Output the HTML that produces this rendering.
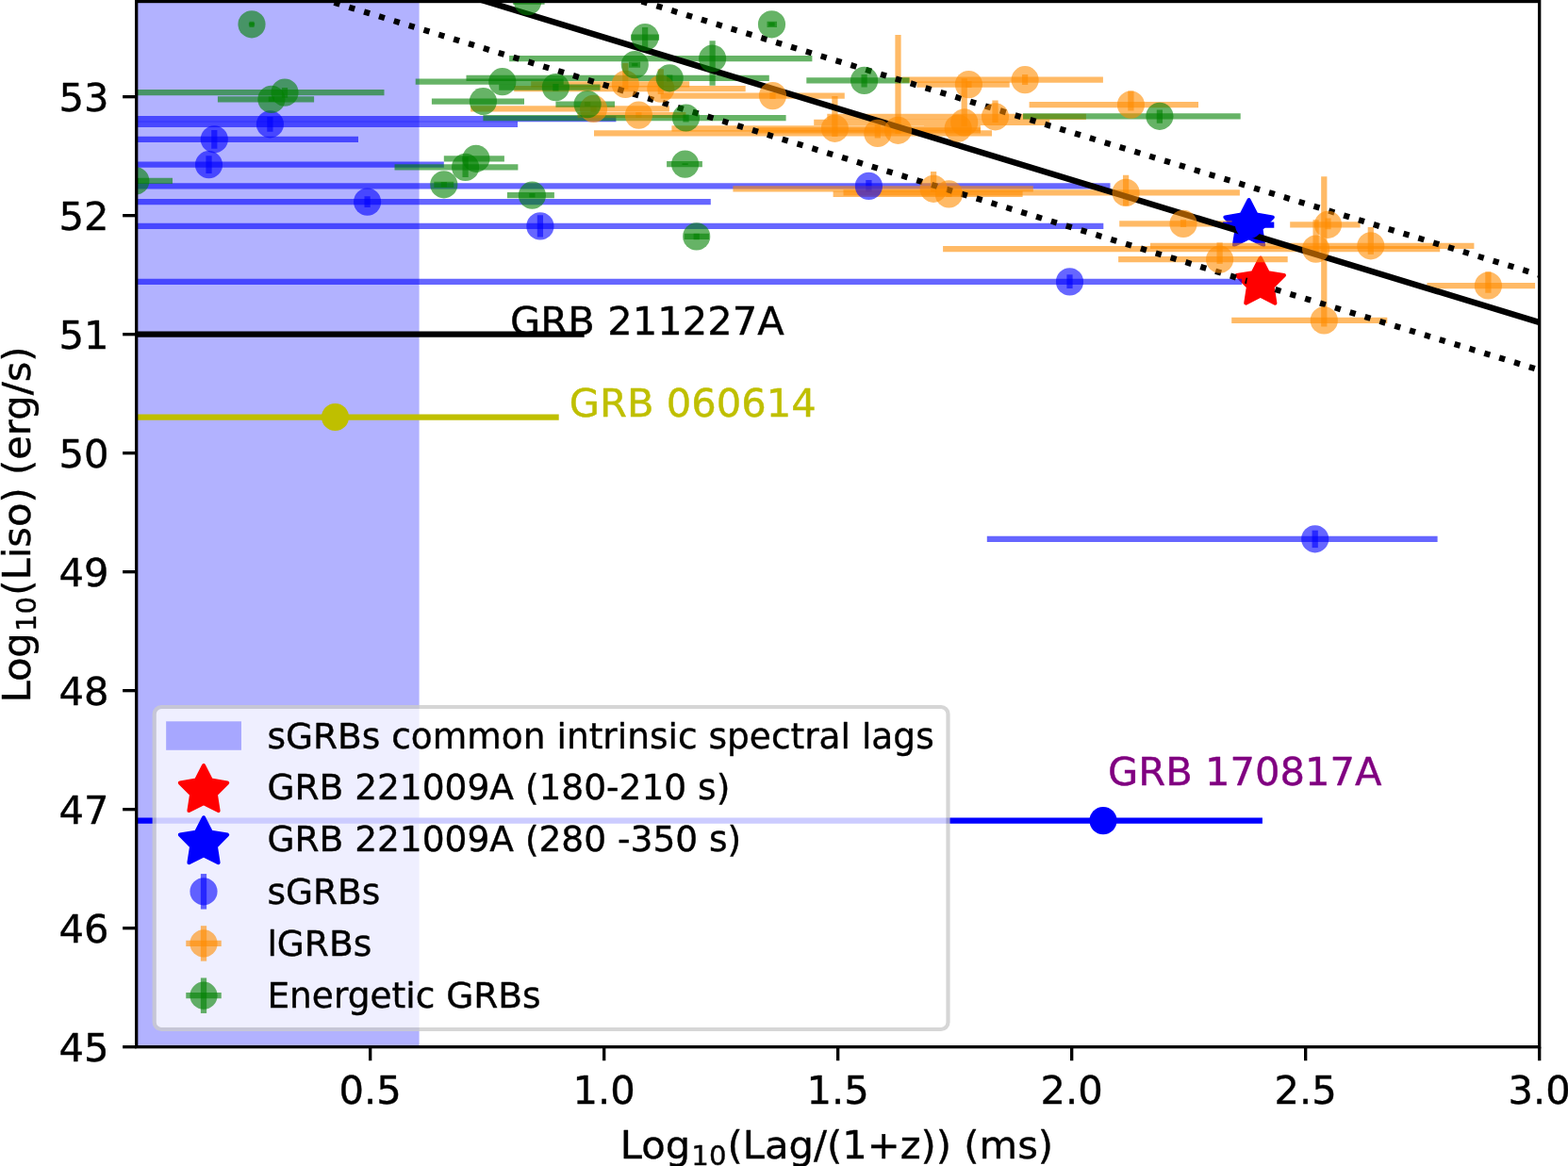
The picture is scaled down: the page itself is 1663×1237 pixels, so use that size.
<!DOCTYPE html>
<html lang="en"><head><meta charset="utf-8"><title>Luminosity-lag relation</title>
<style>html,body{margin:0;padding:0;background:#fff}svg{display:block}text{font-family:'DejaVu Sans','Liberation Sans',sans-serif;stroke-width:0.4px;stroke-linejoin:round;paint-order:stroke fill;}</style></head><body>
<svg width="1663" height="1237" viewBox="0 0 1663 1237">
<rect x="0" y="0" width="1663" height="1237" fill="#fff"/>
<defs><clipPath id="ax"><rect x="144.67" y="1.87" width="1488.0" height="1108.8000000000002"/></clipPath>
</defs>
<g clip-path="url(#ax)">
<rect x="139.67" y="-3.13" width="304.93" height="1118.8000000000002" fill="#0000ff" fill-opacity="0.3"/>
<path d="M1336.80 273.80L1328.86 289.28L1311.69 292.04L1323.96 304.37L1321.28 321.56L1336.80 313.70L1352.32 321.56L1349.64 304.37L1361.91 292.04L1344.74 289.28Z" fill="#ff0000" stroke="#ff0000" stroke-width="4.17" stroke-linejoin="round" />
<path d="M1324.55 212.20L1316.61 227.68L1299.44 230.44L1311.71 242.77L1309.03 259.96L1324.55 252.10L1340.07 259.96L1337.39 242.77L1349.66 230.44L1332.49 227.68Z" fill="#0000ff" stroke="#0000ff" stroke-width="4.17" stroke-linejoin="round" />
<path d="M100.00 354.67H619.70" stroke="#000" stroke-opacity="1" stroke-width="6.25" fill="none"/>
<path d="M100.00 442.50H592.70" stroke="#bfbf00" stroke-opacity="1" stroke-width="6.25" fill="none"/>
<path d="M100.00 870.60H1338.90" stroke="#0000ff" stroke-opacity="1" stroke-width="6.25" fill="none"/>
<g id="bars-s">
<path d="M100.00 131.80H549.00" stroke="#0000ff" stroke-opacity="0.6" stroke-width="6.25" fill="none"/>
<path d="M100.00 147.80H380.00" stroke="#0000ff" stroke-opacity="0.6" stroke-width="6.25" fill="none"/>
<path d="M100.00 174.70H470.80" stroke="#0000ff" stroke-opacity="0.6" stroke-width="6.25" fill="none"/>
<path d="M100.00 214.10H753.80" stroke="#0000ff" stroke-opacity="0.6" stroke-width="6.25" fill="none"/>
<path d="M100.00 239.90H1170.30" stroke="#0000ff" stroke-opacity="0.6" stroke-width="6.25" fill="none"/>
<path d="M100.00 197.40H1177.50" stroke="#0000ff" stroke-opacity="0.6" stroke-width="6.25" fill="none"/>
<path d="M100.00 298.90H1317.10" stroke="#0000ff" stroke-opacity="0.6" stroke-width="6.25" fill="none"/>
<path d="M1046.80 571.80H1524.60" stroke="#0000ff" stroke-opacity="0.6" stroke-width="6.25" fill="none"/>
<path d="M286.40 123.90V139.80" stroke="#0000ff" stroke-opacity="0.6" stroke-width="6.25" fill="none"/>
<path d="M227.30 137.90V157.70" stroke="#0000ff" stroke-opacity="0.6" stroke-width="6.25" fill="none"/>
<path d="M221.50 165.20V184.00" stroke="#0000ff" stroke-opacity="0.6" stroke-width="6.25" fill="none"/>
<path d="M389.60 208.20V219.90" stroke="#0000ff" stroke-opacity="0.6" stroke-width="6.25" fill="none"/>
<path d="M572.90 228.20V251.50" stroke="#0000ff" stroke-opacity="0.6" stroke-width="6.25" fill="none"/>
<path d="M921.40 190.90V203.40" stroke="#0000ff" stroke-opacity="0.6" stroke-width="6.25" fill="none"/>
<path d="M1134.50 291.30V306.00" stroke="#0000ff" stroke-opacity="0.6" stroke-width="6.25" fill="none"/>
<path d="M1394.70 562.70V581.10" stroke="#0000ff" stroke-opacity="0.6" stroke-width="6.25" fill="none"/>
<path d="M100.00 126.10H653.40" stroke="#0000ff" stroke-opacity="0.6" stroke-width="6.25" fill="none"/>
</g>
<g id="bars-l">
<path d="M563.20 89.40H731.20" stroke="#ff8c00" stroke-opacity="0.6" stroke-width="6.25" fill="none"/>
<path d="M545.20 94.10H790.70" stroke="#ff8c00" stroke-opacity="0.6" stroke-width="6.25" fill="none"/>
<path d="M499.10 115.40H709.90" stroke="#ff8c00" stroke-opacity="0.6" stroke-width="6.25" fill="none"/>
<path d="M612.50 122.10H727.40" stroke="#ff8c00" stroke-opacity="0.6" stroke-width="6.25" fill="none"/>
<path d="M700.60 101.60H895.80" stroke="#ff8c00" stroke-opacity="0.6" stroke-width="6.25" fill="none"/>
<path d="M712.40 136.30H980.00" stroke="#ff8c00" stroke-opacity="0.6" stroke-width="6.25" fill="none"/>
<path d="M630.00 141.40H1052.00" stroke="#ff8c00" stroke-opacity="0.6" stroke-width="6.25" fill="none"/>
<path d="M803.40 138.30H1040.00" stroke="#ff8c00" stroke-opacity="0.6" stroke-width="6.25" fill="none"/>
<path d="M980.00 136.10H1039.90" stroke="#ff8c00" stroke-opacity="0.6" stroke-width="6.25" fill="none"/>
<path d="M863.20 129.90H1113.30" stroke="#ff8c00" stroke-opacity="0.6" stroke-width="6.25" fill="none"/>
<path d="M972.40 89.60H1070.70" stroke="#ff8c00" stroke-opacity="0.6" stroke-width="6.25" fill="none"/>
<path d="M877.30 123.80H1151.90" stroke="#ff8c00" stroke-opacity="0.6" stroke-width="6.25" fill="none"/>
<path d="M956.60 84.70H1169.90" stroke="#ff8c00" stroke-opacity="0.6" stroke-width="6.25" fill="none"/>
<path d="M777.40 200.30H1095.80" stroke="#ff8c00" stroke-opacity="0.6" stroke-width="6.25" fill="none"/>
<path d="M883.60 205.90H1084.60" stroke="#ff8c00" stroke-opacity="0.6" stroke-width="6.25" fill="none"/>
<path d="M894.50 204.40H1314.90" stroke="#ff8c00" stroke-opacity="0.6" stroke-width="6.25" fill="none"/>
<path d="M1091.60 111.10H1271.00" stroke="#ff8c00" stroke-opacity="0.6" stroke-width="6.25" fill="none"/>
<path d="M1187.20 237.40H1306.60" stroke="#ff8c00" stroke-opacity="0.6" stroke-width="6.25" fill="none"/>
<path d="M1186.10 275.20H1365.70" stroke="#ff8c00" stroke-opacity="0.6" stroke-width="6.25" fill="none"/>
<path d="M1000.10 264.10H1527.20" stroke="#ff8c00" stroke-opacity="0.6" stroke-width="6.25" fill="none"/>
<path d="M1368.20 238.30H1442.60" stroke="#ff8c00" stroke-opacity="0.6" stroke-width="6.25" fill="none"/>
<path d="M1220.00 260.80H1563.40" stroke="#ff8c00" stroke-opacity="0.6" stroke-width="6.25" fill="none"/>
<path d="M1306.20 339.90H1471.30" stroke="#ff8c00" stroke-opacity="0.6" stroke-width="6.25" fill="none"/>
<path d="M1513.40 303.00H1628.10" stroke="#ff8c00" stroke-opacity="0.6" stroke-width="6.25" fill="none"/>
<path d="M663.30 67.00V95.00" stroke="#ff8c00" stroke-opacity="0.6" stroke-width="6.25" fill="none"/>
<path d="M700.80 73.30V100.00" stroke="#ff8c00" stroke-opacity="0.6" stroke-width="6.25" fill="none"/>
<path d="M629.50 112.00V119.00" stroke="#ff8c00" stroke-opacity="0.6" stroke-width="6.25" fill="none"/>
<path d="M677.40 119.00V125.00" stroke="#ff8c00" stroke-opacity="0.6" stroke-width="6.25" fill="none"/>
<path d="M819.50 98.00V105.00" stroke="#ff8c00" stroke-opacity="0.6" stroke-width="6.25" fill="none"/>
<path d="M885.40 101.90V145.00" stroke="#ff8c00" stroke-opacity="0.6" stroke-width="6.25" fill="none"/>
<path d="M930.80 132.00V146.60" stroke="#ff8c00" stroke-opacity="0.6" stroke-width="6.25" fill="none"/>
<path d="M952.50 37.00V142.00" stroke="#ff8c00" stroke-opacity="0.6" stroke-width="6.25" fill="none"/>
<path d="M1022.70 83.30V134.00" stroke="#ff8c00" stroke-opacity="0.6" stroke-width="6.25" fill="none"/>
<path d="M1027.40 86.00V93.00" stroke="#ff8c00" stroke-opacity="0.6" stroke-width="6.25" fill="none"/>
<path d="M1055.50 106.60V130.00" stroke="#ff8c00" stroke-opacity="0.6" stroke-width="6.25" fill="none"/>
<path d="M1087.10 79.10V90.00" stroke="#ff8c00" stroke-opacity="0.6" stroke-width="6.25" fill="none"/>
<path d="M990.10 182.10V204.00" stroke="#ff8c00" stroke-opacity="0.6" stroke-width="6.25" fill="none"/>
<path d="M1006.40 202.00V209.00" stroke="#ff8c00" stroke-opacity="0.6" stroke-width="6.25" fill="none"/>
<path d="M1194.10 185.80V218.30" stroke="#ff8c00" stroke-opacity="0.6" stroke-width="6.25" fill="none"/>
<path d="M1199.40 96.60V117.50" stroke="#ff8c00" stroke-opacity="0.6" stroke-width="6.25" fill="none"/>
<path d="M1255.00 233.00V241.00" stroke="#ff8c00" stroke-opacity="0.6" stroke-width="6.25" fill="none"/>
<path d="M1293.60 257.40V279.90" stroke="#ff8c00" stroke-opacity="0.6" stroke-width="6.25" fill="none"/>
<path d="M1395.60 233.30V270.00" stroke="#ff8c00" stroke-opacity="0.6" stroke-width="6.25" fill="none"/>
<path d="M1408.50 231.60V243.30" stroke="#ff8c00" stroke-opacity="0.6" stroke-width="6.25" fill="none"/>
<path d="M1453.80 241.10V269.90" stroke="#ff8c00" stroke-opacity="0.6" stroke-width="6.25" fill="none"/>
<path d="M1404.30 187.30V346.60" stroke="#ff8c00" stroke-opacity="0.6" stroke-width="6.25" fill="none"/>
<path d="M1578.40 288.20V310.80" stroke="#ff8c00" stroke-opacity="0.6" stroke-width="6.25" fill="none"/>
</g>
<g id="bars-e">
<path d="M264.50 25.80H269.50" stroke="#008000" stroke-opacity="0.6" stroke-width="6.25" fill="none"/>
<path d="M100.00 98.10H407.50" stroke="#008000" stroke-opacity="0.6" stroke-width="6.25" fill="none"/>
<path d="M230.90 105.40H333.10" stroke="#008000" stroke-opacity="0.6" stroke-width="6.25" fill="none"/>
<path d="M100.00 191.90H183.00" stroke="#008000" stroke-opacity="0.6" stroke-width="6.25" fill="none"/>
<path d="M460.30 195.80H481.20" stroke="#008000" stroke-opacity="0.6" stroke-width="6.25" fill="none"/>
<path d="M418.50 177.40H549.40" stroke="#008000" stroke-opacity="0.6" stroke-width="6.25" fill="none"/>
<path d="M470.80 168.30H534.90" stroke="#008000" stroke-opacity="0.6" stroke-width="6.25" fill="none"/>
<path d="M457.90 107.50H556.00" stroke="#008000" stroke-opacity="0.6" stroke-width="6.25" fill="none"/>
<path d="M440.70 86.70H597.70" stroke="#008000" stroke-opacity="0.6" stroke-width="6.25" fill="none"/>
<path d="M543.90 1.70H577.60" stroke="#008000" stroke-opacity="0.6" stroke-width="6.25" fill="none"/>
<path d="M537.90 207.20H587.90" stroke="#008000" stroke-opacity="0.6" stroke-width="6.25" fill="none"/>
<path d="M529.20 92.60H636.50" stroke="#008000" stroke-opacity="0.6" stroke-width="6.25" fill="none"/>
<path d="M589.40 110.60H652.00" stroke="#008000" stroke-opacity="0.6" stroke-width="6.25" fill="none"/>
<path d="M669.10 39.50H699.10" stroke="#008000" stroke-opacity="0.6" stroke-width="6.25" fill="none"/>
<path d="M667.00 68.60H679.10" stroke="#008000" stroke-opacity="0.6" stroke-width="6.25" fill="none"/>
<path d="M494.50 82.80H815.80" stroke="#008000" stroke-opacity="0.6" stroke-width="6.25" fill="none"/>
<path d="M512.40 125.00H833.60" stroke="#008000" stroke-opacity="0.6" stroke-width="6.25" fill="none"/>
<path d="M707.10 174.10H744.90" stroke="#008000" stroke-opacity="0.6" stroke-width="6.25" fill="none"/>
<path d="M725.70 250.90H752.00" stroke="#008000" stroke-opacity="0.6" stroke-width="6.25" fill="none"/>
<path d="M540.10 62.00H861.40" stroke="#008000" stroke-opacity="0.6" stroke-width="6.25" fill="none"/>
<path d="M813.50 25.80H824.00" stroke="#008000" stroke-opacity="0.6" stroke-width="6.25" fill="none"/>
<path d="M855.30 85.40H964.60" stroke="#008000" stroke-opacity="0.6" stroke-width="6.25" fill="none"/>
<path d="M1085.00 123.30H1315.70" stroke="#008000" stroke-opacity="0.6" stroke-width="6.25" fill="none"/>
<path d="M267.00 24.00V27.60" stroke="#008000" stroke-opacity="0.6" stroke-width="6.25" fill="none"/>
<path d="M302.00 92.90V103.80" stroke="#008000" stroke-opacity="0.6" stroke-width="6.25" fill="none"/>
<path d="M287.90 102.50V108.00" stroke="#008000" stroke-opacity="0.6" stroke-width="6.25" fill="none"/>
<path d="M143.80 189.00V195.00" stroke="#008000" stroke-opacity="0.6" stroke-width="6.25" fill="none"/>
<path d="M470.80 193.00V198.50" stroke="#008000" stroke-opacity="0.6" stroke-width="6.25" fill="none"/>
<path d="M493.60 166.60V187.90" stroke="#008000" stroke-opacity="0.6" stroke-width="6.25" fill="none"/>
<path d="M564.40 205.00V209.50" stroke="#008000" stroke-opacity="0.6" stroke-width="6.25" fill="none"/>
<path d="M589.40 88.90V96.40" stroke="#008000" stroke-opacity="0.6" stroke-width="6.25" fill="none"/>
<path d="M623.10 108.00V113.00" stroke="#008000" stroke-opacity="0.6" stroke-width="6.25" fill="none"/>
<path d="M684.10 29.10V50.00" stroke="#008000" stroke-opacity="0.6" stroke-width="6.25" fill="none"/>
<path d="M673.30 67.00V70.20" stroke="#008000" stroke-opacity="0.6" stroke-width="6.25" fill="none"/>
<path d="M710.20 79.50V86.60" stroke="#008000" stroke-opacity="0.6" stroke-width="6.25" fill="none"/>
<path d="M727.50 121.60V129.60" stroke="#008000" stroke-opacity="0.6" stroke-width="6.25" fill="none"/>
<path d="M726.60 173.30V174.90" stroke="#008000" stroke-opacity="0.6" stroke-width="6.25" fill="none"/>
<path d="M738.70 247.70V254.20" stroke="#008000" stroke-opacity="0.6" stroke-width="6.25" fill="none"/>
<path d="M755.60 43.30V90.80" stroke="#008000" stroke-opacity="0.6" stroke-width="6.25" fill="none"/>
<path d="M818.50 23.80V27.80" stroke="#008000" stroke-opacity="0.6" stroke-width="6.25" fill="none"/>
<path d="M916.60 79.10V92.40" stroke="#008000" stroke-opacity="0.6" stroke-width="6.25" fill="none"/>
<path d="M1229.90 116.60V130.80" stroke="#008000" stroke-opacity="0.6" stroke-width="6.25" fill="none"/>
</g>
<path d="M1297.00 238.60H1351.30" stroke="#0000ff" stroke-opacity="1" stroke-width="6.25" fill="none"/>
<path d="M-4.13 -156.89L1731.87 372.31" stroke="#000" fill="none" stroke-width="6.5"/>
<path d="M-4.13 -207.29L1731.87 321.91" stroke="#000" fill="none" stroke-width="6.25" stroke-dasharray="6.250 10.312" stroke-dashoffset="12.923"/>
<path d="M-4.13 -106.49L1731.87 422.71" stroke="#000" fill="none" stroke-width="6.25" stroke-dasharray="6.250 10.312" stroke-dashoffset="6.076"/>
<circle cx="355.50" cy="442.50" r="14.58" fill="#bfbf00" fill-opacity="1"/>
<circle cx="1170.00" cy="870.60" r="14.58" fill="#0000ff" fill-opacity="1"/>
<circle cx="1336.80" cy="300.20" r="14.58" fill="#ff0000" fill-opacity="1"/>
<circle cx="1324.55" cy="238.60" r="14.58" fill="#0000ff" fill-opacity="1"/>
<g id="pts-s">
<circle cx="286.40" cy="131.80" r="14.58" fill="#0000ff" fill-opacity="0.6"/>
<circle cx="227.30" cy="147.80" r="14.58" fill="#0000ff" fill-opacity="0.6"/>
<circle cx="221.50" cy="174.70" r="14.58" fill="#0000ff" fill-opacity="0.6"/>
<circle cx="389.60" cy="214.10" r="14.58" fill="#0000ff" fill-opacity="0.6"/>
<circle cx="572.90" cy="239.90" r="14.58" fill="#0000ff" fill-opacity="0.6"/>
<circle cx="921.40" cy="197.40" r="14.58" fill="#0000ff" fill-opacity="0.6"/>
<circle cx="1134.50" cy="298.90" r="14.58" fill="#0000ff" fill-opacity="0.6"/>
<circle cx="1394.70" cy="571.80" r="14.58" fill="#0000ff" fill-opacity="0.6"/>
</g>
<g id="pts-l">
<circle cx="663.30" cy="89.40" r="14.58" fill="#ff8c00" fill-opacity="0.6"/>
<circle cx="700.80" cy="94.10" r="14.58" fill="#ff8c00" fill-opacity="0.6"/>
<circle cx="629.50" cy="115.40" r="14.58" fill="#ff8c00" fill-opacity="0.6"/>
<circle cx="677.40" cy="122.10" r="14.58" fill="#ff8c00" fill-opacity="0.6"/>
<circle cx="819.50" cy="101.60" r="14.58" fill="#ff8c00" fill-opacity="0.6"/>
<circle cx="885.40" cy="136.30" r="14.58" fill="#ff8c00" fill-opacity="0.6"/>
<circle cx="930.80" cy="141.40" r="14.58" fill="#ff8c00" fill-opacity="0.6"/>
<circle cx="952.50" cy="138.30" r="14.58" fill="#ff8c00" fill-opacity="0.6"/>
<circle cx="1016.20" cy="136.10" r="14.58" fill="#ff8c00" fill-opacity="0.6"/>
<circle cx="1022.70" cy="129.90" r="14.58" fill="#ff8c00" fill-opacity="0.6"/>
<circle cx="1027.40" cy="89.60" r="14.58" fill="#ff8c00" fill-opacity="0.6"/>
<circle cx="1055.50" cy="123.80" r="14.58" fill="#ff8c00" fill-opacity="0.6"/>
<circle cx="1087.10" cy="84.70" r="14.58" fill="#ff8c00" fill-opacity="0.6"/>
<circle cx="990.10" cy="200.30" r="14.58" fill="#ff8c00" fill-opacity="0.6"/>
<circle cx="1006.40" cy="205.90" r="14.58" fill="#ff8c00" fill-opacity="0.6"/>
<circle cx="1194.10" cy="204.40" r="14.58" fill="#ff8c00" fill-opacity="0.6"/>
<circle cx="1199.40" cy="111.10" r="14.58" fill="#ff8c00" fill-opacity="0.6"/>
<circle cx="1255.00" cy="237.40" r="14.58" fill="#ff8c00" fill-opacity="0.6"/>
<circle cx="1293.60" cy="275.20" r="14.58" fill="#ff8c00" fill-opacity="0.6"/>
<circle cx="1395.60" cy="264.10" r="14.58" fill="#ff8c00" fill-opacity="0.6"/>
<circle cx="1408.50" cy="238.30" r="14.58" fill="#ff8c00" fill-opacity="0.6"/>
<circle cx="1453.80" cy="260.80" r="14.58" fill="#ff8c00" fill-opacity="0.6"/>
<circle cx="1404.30" cy="339.90" r="14.58" fill="#ff8c00" fill-opacity="0.6"/>
<circle cx="1578.40" cy="303.00" r="14.58" fill="#ff8c00" fill-opacity="0.6"/>
</g>
<g id="pts-e">
<circle cx="267.00" cy="25.80" r="14.58" fill="#008000" fill-opacity="0.6"/>
<circle cx="302.00" cy="98.10" r="14.58" fill="#008000" fill-opacity="0.6"/>
<circle cx="287.90" cy="105.40" r="14.58" fill="#008000" fill-opacity="0.6"/>
<circle cx="143.80" cy="191.90" r="14.58" fill="#008000" fill-opacity="0.6"/>
<circle cx="470.80" cy="195.80" r="14.58" fill="#008000" fill-opacity="0.6"/>
<circle cx="493.60" cy="177.40" r="14.58" fill="#008000" fill-opacity="0.6"/>
<circle cx="504.90" cy="168.30" r="14.58" fill="#008000" fill-opacity="0.6"/>
<circle cx="512.40" cy="107.50" r="14.58" fill="#008000" fill-opacity="0.6"/>
<circle cx="532.80" cy="86.70" r="14.58" fill="#008000" fill-opacity="0.6"/>
<circle cx="559.60" cy="1.70" r="14.58" fill="#008000" fill-opacity="0.6"/>
<circle cx="564.40" cy="207.20" r="14.58" fill="#008000" fill-opacity="0.6"/>
<circle cx="589.40" cy="92.60" r="14.58" fill="#008000" fill-opacity="0.6"/>
<circle cx="623.10" cy="110.60" r="14.58" fill="#008000" fill-opacity="0.6"/>
<circle cx="684.10" cy="39.50" r="14.58" fill="#008000" fill-opacity="0.6"/>
<circle cx="673.30" cy="68.60" r="14.58" fill="#008000" fill-opacity="0.6"/>
<circle cx="710.20" cy="82.80" r="14.58" fill="#008000" fill-opacity="0.6"/>
<circle cx="727.50" cy="125.00" r="14.58" fill="#008000" fill-opacity="0.6"/>
<circle cx="726.60" cy="174.10" r="14.58" fill="#008000" fill-opacity="0.6"/>
<circle cx="738.70" cy="250.90" r="14.58" fill="#008000" fill-opacity="0.6"/>
<circle cx="755.60" cy="62.00" r="14.58" fill="#008000" fill-opacity="0.6"/>
<circle cx="818.50" cy="25.80" r="14.58" fill="#008000" fill-opacity="0.6"/>
<circle cx="916.60" cy="85.40" r="14.58" fill="#008000" fill-opacity="0.6"/>
<circle cx="1229.90" cy="123.30" r="14.58" fill="#008000" fill-opacity="0.6"/>
</g>
</g>
<text x="541.1" y="354.67" font-size="41.67" fill="#000" stroke="#000">GRB 211227A</text>
<text x="603.7" y="442.0" font-size="41.67" fill="#bfbf00" stroke="#bfbf00">GRB 060614</text>
<text x="1175.0" y="832.9" font-size="41.67" fill="#800080" stroke="#800080">GRB 170817A</text>
<rect x="144.67" y="1.53" width="1488.0" height="1109.14" fill="none" stroke="#000" stroke-width="3.33" stroke-linejoin="miter"/>
<path d="M392.67 1110.67v14.58" stroke="#000" stroke-width="3.33"/>
<text x="392.67" y="1170.97" font-size="41.67" text-anchor="middle" stroke="#000">0.5</text>
<path d="M640.67 1110.67v14.58" stroke="#000" stroke-width="3.33"/>
<text x="640.67" y="1170.97" font-size="41.67" text-anchor="middle" stroke="#000">1.0</text>
<path d="M888.67 1110.67v14.58" stroke="#000" stroke-width="3.33"/>
<text x="888.67" y="1170.97" font-size="41.67" text-anchor="middle" stroke="#000">1.5</text>
<path d="M1136.67 1110.67v14.58" stroke="#000" stroke-width="3.33"/>
<text x="1136.67" y="1170.97" font-size="41.67" text-anchor="middle" stroke="#000">2.0</text>
<path d="M1384.67 1110.67v14.58" stroke="#000" stroke-width="3.33"/>
<text x="1384.67" y="1170.97" font-size="41.67" text-anchor="middle" stroke="#000">2.5</text>
<path d="M1632.67 1110.67v14.58" stroke="#000" stroke-width="3.33"/>
<text x="1632.67" y="1170.97" font-size="41.67" text-anchor="middle" stroke="#000">3.0</text>
<path d="M144.67 1110.67h-14.58" stroke="#000" stroke-width="3.33"/>
<text x="115.50" y="1125.97" font-size="41.67" text-anchor="end" stroke="#000">45</text>
<path d="M144.67 984.67h-14.58" stroke="#000" stroke-width="3.33"/>
<text x="115.50" y="999.97" font-size="41.67" text-anchor="end" stroke="#000">46</text>
<path d="M144.67 858.67h-14.58" stroke="#000" stroke-width="3.33"/>
<text x="115.50" y="873.97" font-size="41.67" text-anchor="end" stroke="#000">47</text>
<path d="M144.67 732.67h-14.58" stroke="#000" stroke-width="3.33"/>
<text x="115.50" y="747.97" font-size="41.67" text-anchor="end" stroke="#000">48</text>
<path d="M144.67 606.67h-14.58" stroke="#000" stroke-width="3.33"/>
<text x="115.50" y="621.97" font-size="41.67" text-anchor="end" stroke="#000">49</text>
<path d="M144.67 480.67h-14.58" stroke="#000" stroke-width="3.33"/>
<text x="115.50" y="495.97" font-size="41.67" text-anchor="end" stroke="#000">50</text>
<path d="M144.67 354.67h-14.58" stroke="#000" stroke-width="3.33"/>
<text x="115.50" y="369.97" font-size="41.67" text-anchor="end" stroke="#000">51</text>
<path d="M144.67 228.67h-14.58" stroke="#000" stroke-width="3.33"/>
<text x="115.50" y="243.97" font-size="41.67" text-anchor="end" stroke="#000">52</text>
<path d="M144.67 102.67h-14.58" stroke="#000" stroke-width="3.33"/>
<text x="115.50" y="117.97" font-size="41.67" text-anchor="end" stroke="#000">53</text>
<g transform="translate(657.80 1229.00)"><text font-size="41.67" stroke="#000"><tspan x="0" y="0">Log</tspan><tspan x="75.55" y="6.84" font-size="29.17">10</tspan><tspan x="113.81" y="0">(Lag/(1+z)) (ms)</tspan></text></g>
<g transform="translate(31.50 745.60) rotate(-90)"><text font-size="41.67" stroke="#000"><tspan x="0" y="0">Log</tspan><tspan x="75.55" y="6.84" font-size="29.17">10</tspan><tspan x="113.81" y="0">(Liso) (erg/s)</tspan></text></g>
<g id="legend">
<g opacity="0.8"><rect x="163.7" y="750.0" width="841.80" height="342.00" rx="7.5" ry="7.5" fill="#fff" stroke="#ccc" stroke-width="4.17"/></g>
<rect x="176.15" y="765.3" width="79.8" height="30.5" fill="#0000ff" fill-opacity="0.3"/>
<path d="M216.00 812.20L208.06 827.68L190.89 830.44L203.16 842.77L200.48 859.96L216.00 852.10L231.52 859.96L228.84 842.77L241.11 830.44L223.94 827.68Z" fill="#ff0000" stroke="#ff0000" stroke-width="4.17" stroke-linejoin="round" />
<path d="M216.00 867.40L208.06 882.88L190.89 885.64L203.16 897.97L200.48 915.16L216.00 907.30L231.52 915.16L228.84 897.97L241.11 885.64L223.94 882.88Z" fill="#0000ff" stroke="#0000ff" stroke-width="4.17" stroke-linejoin="round" />
<path d="M216.00 927.05V964.55" stroke="#0000ff" stroke-opacity="0.6" stroke-width="6.25" fill="none"/>
<circle cx="216.00" cy="945.80" r="14.58" fill="#0000ff" fill-opacity="0.6"/>
<path d="M197.25 1000.90H234.75" stroke="#ff8c00" stroke-opacity="0.6" stroke-width="6.25" fill="none"/>
<path d="M216.00 982.15V1019.65" stroke="#ff8c00" stroke-opacity="0.6" stroke-width="6.25" fill="none"/>
<circle cx="216.00" cy="1000.90" r="14.58" fill="#ff8c00" fill-opacity="0.6"/>
<path d="M197.25 1056.20H234.75" stroke="#008000" stroke-opacity="0.6" stroke-width="6.25" fill="none"/>
<path d="M216.00 1037.45V1074.95" stroke="#008000" stroke-opacity="0.6" stroke-width="6.25" fill="none"/>
<circle cx="216.00" cy="1056.20" r="14.58" fill="#008000" fill-opacity="0.6"/>
<text x="283.4" y="793.80" font-size="37.50" stroke="#000">sGRBs common intrinsic spectral lags</text>
<text x="283.4" y="848.00" font-size="37.50" stroke="#000">GRB 221009A (180-210 s)</text>
<text x="283.4" y="903.20" font-size="37.50" stroke="#000">GRB 221009A (280 -350 s)</text>
<text x="283.4" y="958.80" font-size="37.50" stroke="#000">sGRBs</text>
<text x="283.4" y="1013.90" font-size="37.50" stroke="#000">lGRBs</text>
<text x="283.4" y="1069.10" font-size="37.50" stroke="#000">Energetic GRBs</text>
</g>
</svg></body></html>
